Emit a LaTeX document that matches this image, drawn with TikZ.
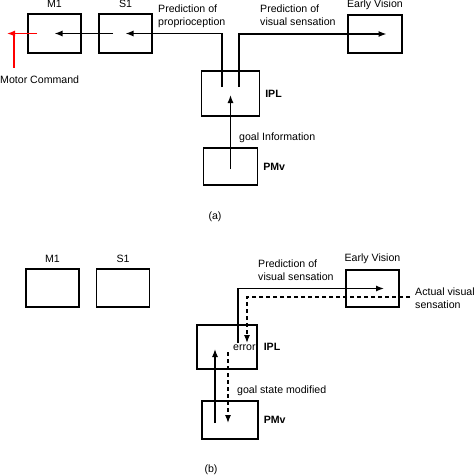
\documentclass[tikz,border=0pt]{standalone}
\usepackage{fontspec}
\setmainfont{Liberation Sans}
\usetikzlibrary{arrows.meta,positioning}

\begin{document}
\begin{tikzpicture}[x=1pt, y=-1pt, anchor=center,
	bloc/.style={draw, line width=1.1pt, inner sep=0pt},
	txt/.style={font=\fontsize{10.6}{13.5}\selectfont, align=left, inner sep=0pt, text depth=0pt},
	fl/.style={line width=1.2pt, -{Latex[length=8pt,width=6pt]}},
	tir/.style={fl, dash pattern=on 4pt off 3pt}]

		\useasboundingbox (0,0) rectangle (474,475);

		\newcommand{\mkbloc}[7]{
			%le rectangle
			\node[bloc, minimum width=#4pt, minimum height=#5pt] (#1) at (#2,#3) {};
			%son nom
			\node[txt, #6 of #1] (#1-nom) {#7};
		}

		%(a)
		\mkbloc{m1a}{54.5}{33.5}{53}{39}{above=6pt}{M1}
		\mkbloc{s1a}{125.5}{33.5}{53}{39}{above=6pt}{S1}
		\mkbloc{eva}{375}{34}{54}{38}{above=7pt}{Early Vision}
		\mkbloc{ipla}{230.5}{93.5}{58}{45}{right=5pt}{\textbf{IPL}}
		\mkbloc{pmva}{230.5}{166.5}{54}{37}{right=5pt}{\textbf{PMv}}

		\draw[fl] ([shift={(-8.5,-6.5)}]ipla.center) |- (s1a.center);
		\draw[fl] ([shift={(-12.5,0)}]s1a.center) -- (m1a.center);
		\draw[fl, red] ([shift={(-17.5,0)}]m1a.center) -- (7,33.5) coordinate (moteur);
		\coordinate (rouge) at (14,33.5);
		\draw[red, line width=1.2pt] (rouge) -- ++(0,34.5);
		\draw[fl] ([shift={(8.5,-6.5)}]ipla.center) |- ([shift={(11.5,0)}]eva.center);
		\draw[fl] ([shift={(0,2.5)}]pmva.center) -- ([shift={(0,1.5)}]ipla.center);

		\node[txt, anchor=west] (propa) at (158,15) {Prediction of\\proprioception};
		\node[txt, anchor=west] (visa) at (260,15) {Prediction of\\visual sensation};
		\node[txt, anchor=west] (buta) at (239,137) {goal Information};
		\node[txt, anchor=west] (moteur-nom) at (0,80) {Motor Command};
		\node[txt] (a) at (215,216) {(a)};

		%(b)
		\mkbloc{m1b}{52.5}{288}{53}{38}{above=6pt}{M1}
		\mkbloc{s1b}{123}{288}{53}{38}{above=6pt}{S1}
		\mkbloc{evb}{372.5}{288.5}{53}{37}{above=8pt}{Early Vision}
		\mkbloc{iplb}{227}{347}{60}{44}{right=6pt}{\textbf{IPL}}
		\mkbloc{pmvb}{230}{420}{56}{38}{right=5pt}{\textbf{PMv}}

		\coordinate (reel) at (410,297);
		\draw[fl] ([shift={(11,-4)}]iplb.center) |- ([shift={(11.5,0)}]evb.center);
		\draw[tir] (reel) -| ([shift={(20,-4)}]iplb.center);
		\draw[fl] ([shift={(-15,3)}]pmvb.center) -- ([shift={(-12,2)}]iplb.center);
		\draw[tir] ([shift={(1,5)}]iplb.center) -- ([shift={(-2,3)}]pmvb.center);

		\node[txt, anchor=west] (visb) at (258,270) {Prediction of\\visual sensation};
		\node[txt, anchor=west] (reel-nom) at (415,298) {Actual visual\\sensation};
		\node[txt, anchor=west] (erreur) at (233,348) {error};
		\node[txt, anchor=west] (butb) at (237,390) {goal state modified};
		\node[txt] (b) at (211,469) {(b)};

\end{tikzpicture}
\end{document}
